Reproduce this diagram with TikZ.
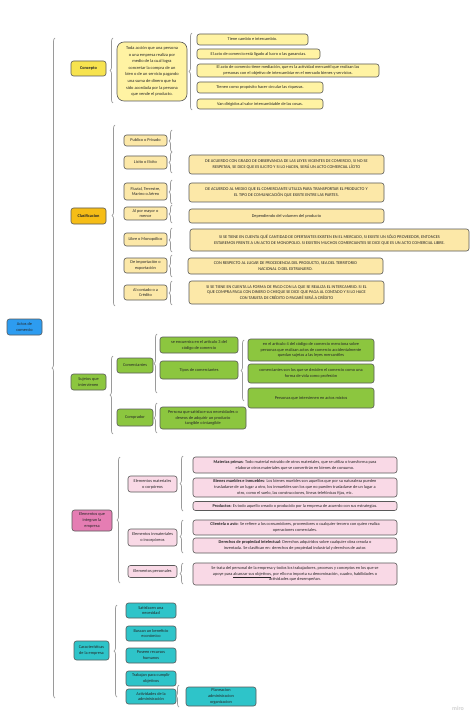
\documentclass[tikz,border=0pt]{standalone}
\usepackage{fontspec}
\setmainfont{Carlito}
\usepackage{tikz}
\usetikzlibrary{decorations.pathreplacing}
\definecolor{rootbl}{HTML}{2D9CF0}
\definecolor{cptop}{HTML}{F7E34F}
\definecolor{cpsub}{HTML}{FFF3A3}
\definecolor{clstop}{HTML}{F6BD16}
\definecolor{clssub}{HTML}{FCE8A8}
\definecolor{sujgr}{HTML}{8CC63F}
\definecolor{elmtop}{HTML}{E57DB3}
\definecolor{elmsub}{HTML}{F9D9E6}
\definecolor{cartl}{HTML}{2EC4C9}
\definecolor{brcgray}{HTML}{9A9A9A}
\tikzset{
  box/.style={draw=black!65,line width=0.6pt,rounded corners=2.5pt,align=center,
              inner sep=1pt,text=black!85,font=\fontsize{4.3}{5.8}\selectfont},
  topbox/.style={box,minimum width=35pt,minimum height=15pt},
  clsbox/.style={box,fill=clssub,minimum width=43pt},
  elmbox/.style={box,fill=elmsub,minimum width=204pt},
  carbox/.style={box,fill=cartl,minimum width=50pt,minimum height=15pt},
  brc/.style={draw=brcgray,line width=0.7pt,decorate,decoration={brace,amplitude=3pt}}
}

\begin{document}
\begin{tikzpicture}[x=1pt,y=-1pt]
\useasboundingbox (0,0) rectangle (474,719);
\fill[white] (0,0) rectangle (474,719);

% root
\node[topbox,fill=rootbl,minimum height=16pt] (root) at (24.5,327) {Actos de\\comercio};
\draw[brc] (55,698) -- (55,38);

% concepto
\node[topbox,fill=cptop,font=\fontsize{4.3}{5.8}\selectfont\bfseries] (cpt) at (88.5,68.5) {Concepto};
\draw[brc] (113,103) -- (113,38);
\node[box,fill=cpsub,rounded corners=7pt,minimum width=70pt,minimum height=59pt,
      font=\fontsize{4.4}{6.6}\selectfont] (cptdef) at (152,71.5)
  {Toda acción que una persona\\ o una empresa realiza por\\ medio de la cual logra\\
   concretar la compra de un\\ bien o de un servicio pagando\\ una suma de dinero que ha\\
   sido acordada por la persona\\ que vende el producto.};
\draw[brc] (192,110) -- (192,33);
\node[box,fill=cpsub,minimum width=111pt,minimum height=11pt] (cpa) at (252.5,39.5) {Tiene cambio e intercambio.};
\node[box,fill=cpsub,minimum width=123pt,minimum height=10pt] (cpb) at (258.5,54) {El acto de comercio está ligado al lucro o las ganancias.};
\node[box,fill=cpsub,minimum width=182pt,minimum height=13pt] (cpc) at (288,70.5)
  {El acto de comercio tiene mediación, que es la actividad mercantil que realizan las\\
   personas con el objetivo de intercambiar en el mercado bienes y servicios.};
\node[box,fill=cpsub,minimum width=126pt,minimum height=11pt] (cpd) at (260,87.5) {Tienen como propósito hacer circular las riquezas.};
\node[box,fill=cpsub,minimum width=126pt,minimum height=10pt] (cpe) at (260,104) {Van dirigidos al valor intercambiable de las cosas.};

% clasificacion
\node[topbox,fill=clstop,minimum height=16pt,font=\fontsize{4.3}{5.8}\selectfont\bfseries] (cls) at (88.5,216) {Clasificacion};
\draw[brc] (115,306) -- (115,125);
\node[clsbox,minimum height=11pt] (clsa) at (145.5,140.5) {Publico o Privado};
\node[clsbox,minimum height=13pt] (clsb) at (145.5,162.5) {Licito o Ilicito};
\node[clsbox,minimum height=17pt] (clsc) at (145.5,191.5) {Fluvial, Terrestre,\\ Marino o Aéreo};
\node[clsbox,minimum height=13pt] (clsd) at (145.5,213.5) {Al por mayor o\\ menor};
\node[clsbox,minimum height=13pt] (clse) at (145.5,239.5) {Libre o Monopólico};
\node[clsbox,minimum height=15pt] (clsf) at (145.5,265.5) {De importación o\\ exportación};
\node[clsbox,minimum height=15pt] (clsg) at (145.5,292.5) {Al contado o a\\ Crédito};
\draw[brc] (172,152) -- (172,130);
\draw[brc] (172,173) -- (172,152);
\draw[brc] (172,204) -- (172,180);
\draw[brc] (172,223) -- (172,205);
\draw[brc] (172,252) -- (172,228);
\draw[brc] (172,277) -- (172,255);
\draw[brc] (172,305) -- (172,281);
\node[clsbox,minimum width=195pt,minimum height=19pt] (clsbd) at (286.5,164.5)
  {DE ACUERDO CON GRADO DE OBSERVANCIA DE LAS LEYES VIGENTES DE COMERCIO, SI NO SE\\
   RESPETAN, SE DICE QUE ES ILICITO Y SI LO HACEN, SERÁ UN ACTO COMERCIAL LÍCITO};
\node[clsbox,minimum width=195pt,minimum height=19pt] (clscd) at (286.5,192.5)
  {DE ACUERDO AL MEDIO QUE EL COMERCIANTE UTILIZA PARA TRANSPORTAR EL PRODUCTO Y\\
   EL TIPO DE COMUNICACIÓN QUE EXISTE ENTRE LAS PARTES.};
\node[clsbox,minimum width=195pt,minimum height=14pt] (clsdd) at (286.5,216) {Dependiendo del volumen del producto};
\node[clsbox,minimum width=279pt,minimum height=22pt] (clsed) at (329.5,240)
  {SI SE TIENE EN CUENTA QUÉ CANTIDAD DE OFERTANTES EXISTEN EN EL MERCADO, SI EXISTE UN SÓLO PROVEEDOR, ENTONCES\\
   ESTAREMOS FRENTE A UN ACTO DE MONOPOLIO. SI EXISTEN MUCHOS COMERCIANTES SE DICE QUE ES UN ACTO COMERCIAL LIBRE.};
\node[clsbox,minimum width=195pt,minimum height=16pt] (clsfd) at (285.5,266)
  {CON RESPECTO AL LUGAR DE PROCEDENCIA DEL PRODUCTO, SEA DEL TERRITORIO\\
   NACIONAL O DEL EXTRANJERO.};
\node[clsbox,minimum width=195pt,minimum height=23pt] (clsgd) at (286.5,292.5)
  {SI SE TIENE EN CUENTA LA FORMA DE PAGO CON LA QUE SE REALIZA EL INTERCAMBIO. SI EL\\
   QUE COMPRA PAGA CON DINERO O CHEQUE SE DICE QUE PAGA AL CONTADO Y SI LO HACE\\
   CON TARJETA DE CRÉDITO O PAGARÉ SERÁ A CRÉDITO};

% sujetos
\node[topbox,fill=sujgr,minimum height=16pt] (suj) at (88.5,382) {Sujetos que\\ intervienen};
\draw[brc] (113,434) -- (113,356);
\node[box,fill=sujgr,minimum width=36pt,minimum height=15pt] (com) at (135,365.5) {Comerciantes};
\node[box,fill=sujgr,minimum width=36pt,minimum height=17pt] (cmp) at (135,417.5) {Comprador};
\draw[brc] (157,393) -- (157,334);
\node[box,fill=sujgr,minimum width=78pt,minimum height=16pt] (comart) at (199,345) {se encuentra en el artículo 3 del\\ código de comercio};
\node[box,fill=sujgr,minimum width=78pt,minimum height=18pt] (comtip) at (199,370) {Tipos de comerciantes};
\draw[brc] (244,401) -- (244,340);
\node[box,fill=sujgr,minimum width=126pt,minimum height=22pt] (tipa) at (311,350)
  {en el artículo 4 del código de comercio menciona sobre\\
   personas que realizan actos de comercio accidentalmente\\ quedan sujetas a las leyes mercantiles};
\node[box,fill=sujgr,minimum width=126pt,minimum height=19pt] (tipb) at (311,373.5)
  {comerciantes son los que se deciden el comercio como una\\ forma de vida como profesión};
\node[box,fill=sujgr,minimum width=126pt,minimum height=20pt] (tipc) at (311,398) {Personas que intervienen en actos mixtos};
\draw[brc] (157,433) -- (157,403);
\node[box,fill=sujgr,minimum width=86pt,minimum height=22pt] (cmpdef) at (203,418)
  {Persona que satisface sus necesidades o\\ deseos de adquirir un producto\\ tangible o intangible};

% elementos
\node[topbox,fill=elmtop,minimum width=40pt,minimum height=21pt] (elm) at (92,520.5) {Elementos que\\ integran la\\ empresa};
\draw[brc] (120,583) -- (120,457);
\node[box,fill=elmsub,minimum width=49pt,minimum height=16pt] (elmm) at (152.5,484) {Elementos materiales\\ o corpóreos};
\node[box,fill=elmsub,minimum width=49pt,minimum height=17pt] (elmi) at (152.5,537.5) {Elementos inmateriales\\ o incorpóreos};
\node[box,fill=elmsub,minimum width=49pt,minimum height=12pt] (elmp) at (152.5,571.5) {Elementos personales};
\draw[brc] (183,511) -- (183,456);
\draw[brc] (183,553) -- (183,520);
\draw[brc] (183,584) -- (183,563);
\node[elmbox,minimum height=16pt] (mp) at (295,465)
  {\textbf{Materias primas}: Todo material extraído de otros materiales, que se utiliza o transforma para\\
   elaborar otros materiales que se convertirán en bienes de consumo.};
\node[elmbox,minimum height=19pt] (bm) at (295,487.5)
  {\textbf{Bienes muebles e inmuebles}: Los bienes muebles son aquellos que por su naturaleza pueden\\
   trasladarse de un lugar a otro, los inmuebles son los que no pueden trasladarse de un lugar a\\
   otro, como el suelo, las construcciones, líneas telefónicas fijas, etc.};
\node[elmbox,minimum height=9pt] (prod) at (295,506)
  {\textbf{Productos}: Es todo aquello creado o producido por la empresa de acuerdo con sus estrategias.};
\node[elmbox,minimum height=15pt] (cli) at (295,527.5)
  {\textbf{Clientela o avío}: Se refiere a los consumidores, proveedores o cualquier tercero con quien realiza\\
   operaciones comerciales.};
\node[elmbox,minimum height=15pt] (der) at (295,545.5)
  {\textbf{Derechos de propiedad intelectual}: Derechos adquiridos sobre cualquier obra creada o\\
   inventada. Se clasifican en: derechos de propiedad industrial y derechos de autor.};
\node[elmbox,minimum height=22pt] (perd) at (295,574)
  {Se trata del personal de la empresa y todos los trabajadores, procesos y conceptos en los que se\\
   apoye para \underline{alcanzar sus objetivos}, por ello no importa su denominación, cuadro, habilidades o\\
   actividades que desempeñan.};

% caracteristicas
\node[topbox,fill=cartl,minimum height=19pt] (car) at (91.5,650.5) {Características\\ de la empresa};
\draw[brc] (117,697) -- (117,605);
\node[carbox] (cara) at (151,610.5) {Satisfacen una\\ necesidad};
\node[carbox] (carb) at (151,633.5) {Buscan un beneficio\\ económico};
\node[carbox] (carc) at (151,655.5) {Poseen recursos\\ humanos};
\node[carbox] (card) at (151,678.5) {Trabajan para cumplir\\ objetivos};
\node[carbox] (care) at (151,696.5) {Actividades de la\\ administración};
\draw[brc] (179,707) -- (179,685);
\node[box,fill=cartl,minimum width=70pt,minimum height=19pt] (plan) at (221,696.5) {Planeacion\\ administracion\\ organizacion};

\node[text=black!18,font=\fontsize{6}{7}\selectfont\bfseries] (miro) at (458,708) {miro};
\end{tikzpicture}
\end{document}
